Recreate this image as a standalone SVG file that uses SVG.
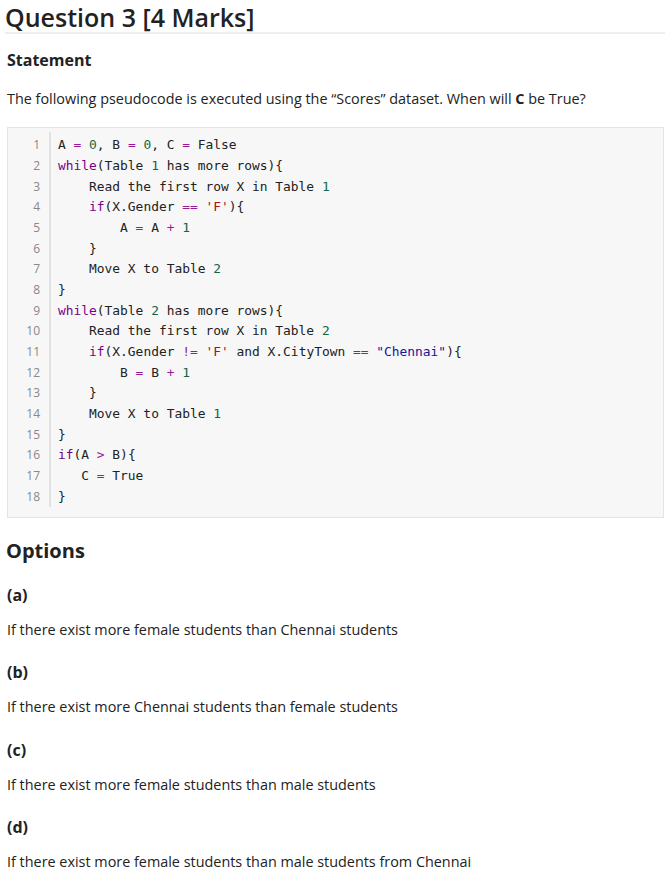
<svg xmlns="http://www.w3.org/2000/svg" width="667" height="874" viewBox="0 0 667 874">
<style>
.t{font-family:"Open Sans","Liberation Sans",sans-serif;fill:#222}
.b{font-family:"Open Sans","Liberation Sans",sans-serif;font-weight:bold;fill:#222}
.c text{font-family:"DejaVu Sans Mono","Liberation Mono",monospace;font-size:12.9px;fill:#222;white-space:pre}
.n{font-family:"Open Sans","Liberation Sans",sans-serif;font-size:12px;fill:#888;text-anchor:end}
.k{fill:#770088}.g{fill:#116644}.s{fill:#aa1111}.q{fill:#221199}.o{fill:#981a9a}
</style>
<rect width="667" height="874" fill="#fff"/>
<text x="5" y="27" class="t" font-size="25" font-weight="600">Question 3 [4 Marks]</text>
<line x1="5" y1="33" x2="665" y2="33" stroke="#ddd"/>
<text x="7" y="66" class="b" font-size="16">Statement</text>
<text x="7" y="104" class="t" font-size="14.4">The following pseudocode is executed using the “Scores” dataset. When will <tspan font-weight="bold">C</tspan> be True?</text>
<rect x="7.5" y="127.5" width="656" height="390" fill="#f7f7f7" stroke="#e4e4e4"/>
<line x1="50" y1="132" x2="50" y2="507" stroke="#ccc"/>
<g class="n">
<text x="40" y="149">1</text><text x="40" y="170">2</text><text x="40" y="191">3</text><text x="40" y="211">4</text><text x="40" y="232">5</text><text x="40" y="253">6</text><text x="40" y="273">7</text><text x="40" y="294">8</text><text x="40" y="315">9</text><text x="40" y="335">10</text><text x="40" y="356">11</text><text x="40" y="377">12</text><text x="40" y="397">13</text><text x="40" y="418">14</text><text x="40" y="439">15</text><text x="40" y="459">16</text><text x="40" y="480">17</text><text x="40" y="501">18</text>
</g>
<g class="c">
<text x="58" y="149">A <tspan class="o">=</tspan> <tspan class="g">0</tspan>, B <tspan class="o">=</tspan> <tspan class="g">0</tspan>, C <tspan class="o">=</tspan> False</text>
<text x="58" y="170"><tspan class="k">while</tspan>(Table <tspan class="g">1</tspan> has more rows){</text>
<text x="58" y="191">    Read the first row X in Table <tspan class="g">1</tspan></text>
<text x="58" y="211">    <tspan class="k">if</tspan>(X.Gender <tspan class="o">==</tspan> <tspan class="s">'F'</tspan>){</text>
<text x="58" y="232">        A <tspan class="o">=</tspan> A <tspan class="o">+</tspan> <tspan class="g">1</tspan></text>
<text x="58" y="253">    }</text>
<text x="58" y="273">    Move X to Table <tspan class="g">2</tspan></text>
<text x="58" y="294">}</text>
<text x="58" y="315"><tspan class="k">while</tspan>(Table <tspan class="g">2</tspan> has more rows){</text>
<text x="58" y="335">    Read the first row X in Table <tspan class="g">2</tspan></text>
<text x="58" y="356">    <tspan class="k">if</tspan>(X.Gender <tspan class="o">!=</tspan> <tspan class="s">'F'</tspan> and X.CityTown <tspan class="o">==</tspan> <tspan class="q">"Chennai"</tspan>){</text>
<text x="58" y="377">        B <tspan class="o">=</tspan> B <tspan class="o">+</tspan> <tspan class="g">1</tspan></text>
<text x="58" y="397">    }</text>
<text x="58" y="418">    Move X to Table <tspan class="g">1</tspan></text>
<text x="58" y="439">}</text>
<text x="58" y="459"><tspan class="k">if</tspan>(A <tspan class="o">&gt;</tspan> B){</text>
<text x="58" y="480">   C <tspan class="o">=</tspan> True</text>
<text x="58" y="501">}</text>
</g>
<text x="6" y="558" class="b" font-size="20">Options</text>
<text x="7" y="601" class="b" font-size="16">(a)</text>
<text x="7" y="635" class="t" font-size="14.4">If there exist more female students than Chennai students</text>
<text x="7" y="678" class="b" font-size="16">(b)</text>
<text x="7" y="712" class="t" font-size="14.4">If there exist more Chennai students than female students</text>
<text x="7" y="756" class="b" font-size="16">(c)</text>
<text x="7" y="790" class="t" font-size="14.4">If there exist more female students than male students</text>
<text x="7" y="833" class="b" font-size="16">(d)</text>
<text x="7" y="867" class="t" font-size="14.4">If there exist more female students than male students from Chennai</text>
</svg>
